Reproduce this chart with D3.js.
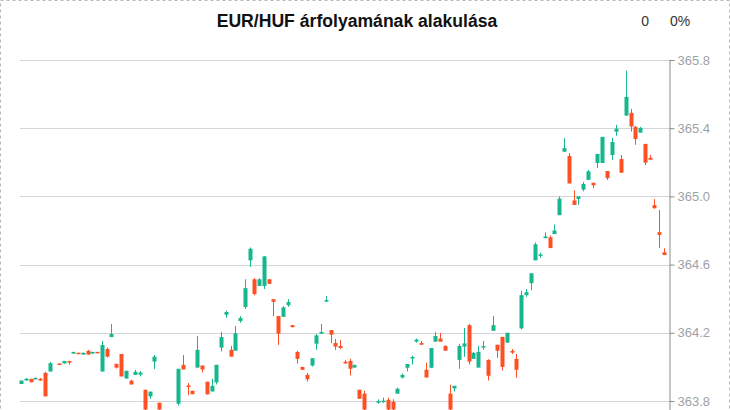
<!DOCTYPE html>
<html>
<head>
<meta charset="utf-8">
<script src="https://cdn.jsdelivr.net/npm/d3@7"></script>
<style>
  html, body { margin: 0; padding: 0; background: #fff; overflow: hidden; }
  svg { display: block; font-family: "Liberation Sans", Arial, sans-serif; }
</style>
</head>
<body>
<svg id="chart" width="730" height="410"></svg>
<script>
// ---- data (slot index = position in arrays; null = no candle) ----
const title = "EUR/HUF árfolyamának alakulása";
const changeAbs = "0";
const changePct = "0%";
const yTicks = [363.8, 364.2, 364.6, 365.0, 365.4, 365.8];

const open = [363.90,363.92,363.93,363.93,363.93,363.965,363.973,null,364.02,364.02,
364.035,364.078,364.083,364.072,364.094,364.078,364.088,363.973,364.105,364.175,
364.018,364.076,363.932,363.919,363.953,363.955,363.866,363.827,364.031,363.79,
null,null,null,363.784,364.012,363.891,363.86,363.996,364.008,363.913,
363.856,363.909,364.113,364.306,364.10,364.095,364.269,364.351,364.625,364.514,
364.475,364.475,364.514,364.397,364.298,364.294,364.362,364.245,364.088,364.00,
363.953,364.008,364.136,364.195,364.39,364.216,364.14,364.123,364.03,364.035,
363.996,363.866,363.843,null,null,363.79,363.80,363.807,363.796,363.843,
363.938,363.995,364.049,364.148,364.14,363.983,363.995,364.148,364.166,364.123,
363.843,363.874,364.041,364.119,364.245,364.047,363.996,364.12,364.041,364.212,
364.13,364.176,364.142,364.094,364.047,364.226,364.421,364.491,364.625,364.655,
364.755,364.76,364.779,364.89,365.262,365.237,364.976,364.985,365.04,365.097,
365.08,365.196,365.196,365.149,365.243,365.38,365.219,365.474,365.49,365.408,
365.374,365.308,365.226,364.949,364.79,364.672];

const high = [363.92,363.935,363.93,363.94,363.935,363.971,364.029,null,364.02,364.035,
364.035,364.088,364.083,364.083,364.10,364.088,364.088,364.152,364.115,364.251,
364.018,364.076,363.977,363.925,363.983,363.975,363.866,363.855,364.07,363.79,
null,null,null,363.989,364.07,363.905,363.86,364.181,364.008,363.913,
363.93,364.012,364.205,364.329,364.123,364.24,364.298,364.514,364.70,364.52,
364.52,364.65,364.514,364.397,364.298,364.356,364.397,364.245,364.094,364.00,
363.965,364.051,364.193,364.252,364.415,364.216,364.164,364.158,364.04,364.047,
364.012,363.866,363.86,null,null,363.81,363.82,363.82,363.81,363.878,
363.961,364.017,364.066,364.166,364.152,364.024,364.111,364.205,364.199,364.127,
363.895,363.889,364.135,364.228,364.251,364.088,364.123,364.152,364.045,364.298,
364.13,364.176,364.20,364.105,364.076,364.446,364.456,364.549,364.73,364.67,
364.789,364.771,364.835,365.00,365.341,365.254,365.035,365.00,365.085,365.155,
365.08,365.249,365.349,365.149,365.343,365.419,365.243,365.737,365.513,365.414,
365.408,365.308,365.243,364.984,364.92,364.696];

const low = [363.90,363.92,363.91,363.93,363.92,363.827,363.973,null,364.013,364.02,
364.014,364.078,364.08,364.072,364.072,364.078,364.084,363.973,364.055,364.175,
363.99,363.944,363.932,363.897,363.953,363.944,363.74,363.812,363.987,363.74,
null,null,null,363.774,363.985,363.833,363.84,363.996,363.967,363.839,
363.856,363.897,364.09,364.288,364.06,364.095,364.259,364.339,364.586,364.42,
364.475,364.456,364.487,364.298,364.129,364.294,364.352,364.23,364.02,363.983,
363.914,364.002,364.101,364.195,364.381,364.139,364.10,364.105,364.02,363.95,
363.996,363.813,363.74,null,null,363.785,363.79,363.74,363.74,363.843,
363.932,363.973,364.014,364.142,364.13,363.938,363.995,364.148,364.148,364.095,
363.74,363.856,363.989,364.06,364.014,364.047,363.996,364.10,363.92,364.212,
364.053,363.979,364.142,364.076,363.936,364.22,364.411,364.45,364.625,364.64,
364.755,364.697,364.779,364.89,365.262,365.076,364.95,364.95,365.03,365.097,
365.048,365.166,365.196,365.096,365.214,365.356,365.139,365.474,365.38,365.303,
365.374,365.184,365.215,364.927,364.698,364.656];

const close = [363.92,363.93,363.91,363.935,363.92,363.827,364.022,null,364.015,364.035,
364.025,364.088,364.08,364.083,364.072,364.088,364.085,364.129,364.06,364.193,
363.996,363.944,363.977,363.897,363.971,363.967,363.75,363.855,364.06,363.75,
null,null,null,363.989,363.985,363.882,363.84,364.10,363.985,363.839,
363.889,364.012,364.175,364.322,364.06,364.197,364.287,364.462,364.693,364.427,
364.514,364.648,364.487,364.382,364.195,364.349,364.38,364.234,364.047,363.983,
363.928,364.051,364.185,364.205,364.392,364.189,364.119,364.111,364.02,363.989,
364.012,363.813,363.75,null,null,363.80,363.802,363.75,363.75,363.872,
363.953,364.017,364.058,364.16,364.13,363.938,364.111,364.181,364.148,364.095,
363.75,363.889,364.123,364.138,364.031,364.082,364.088,364.122,363.948,364.245,
364.095,364.00,364.20,364.084,363.983,364.421,364.438,364.549,364.719,364.66,
364.765,364.697,364.80,364.987,365.283,365.076,364.95,365.00,365.073,365.147,
365.065,365.249,365.349,365.107,365.319,365.397,365.139,365.584,365.41,365.337,
365.402,365.198,365.215,364.931,364.774,364.656];

// ---- chart ----
const W = 730, H = 410;
const upColor = "#16b78e", downColor = "#fe5024";
const svg = d3.select("#chart");

const candles = open.map((o, i) => ({ i, o, h: high[i], l: low[i], c: close[i] }))
  .filter(d => d.o !== null);

const x = d3.scaleLinear().domain([0, open.length - 1]).range([21, 664]);
const y = d3.scaleLinear().domain([363.8, 365.8]).range([401, 60]);
const plotLeft = 20, plotRight = 669.5;

// border
svg.append("rect").attr("x", 0.5).attr("y", 0.5).attr("width", W - 1).attr("height", 600)
  .attr("fill", "none").attr("stroke", "#b8b8b8").attr("stroke-dasharray", "3,3");

// gridlines
svg.append("g").selectAll("line").data(yTicks).join("line")
  .attr("x1", plotLeft).attr("x2", plotRight)
  .attr("y1", d => Math.round(y(d)) + 0.5).attr("y2", d => Math.round(y(d)) + 0.5)
  .attr("stroke", "#d3d6d9").attr("stroke-width", 1);

// right axis
const axis = d3.axisRight(y).tickValues(yTicks).tickFormat(d3.format(".1f")).tickSize(5).tickPadding(3);
const gAxis = svg.append("g").attr("transform", `translate(${plotRight},0)`).call(axis);
gAxis.select(".domain").attr("stroke", "#8a8a8a").attr("d", `M0.5,60V${H + 50}`);
gAxis.selectAll(".tick line").attr("stroke", "#8a8a8a");
gAxis.selectAll(".tick text").attr("fill", "#9ea1a6").attr("font-size", 13)
  .attr("font-family", "Liberation Sans, Arial, sans-serif");

// candles
const g = svg.append("g");
g.selectAll("line.wick").data(candles).join("line")
  .attr("class", "wick")
  .attr("x1", d => Math.round(x(d.i)) + 0.5).attr("x2", d => Math.round(x(d.i)) + 0.5)
  .attr("y1", d => y(d.h)).attr("y2", d => y(d.l))
  .attr("stroke", d => d.c >= d.o ? upColor : downColor).attr("stroke-width", 1);
g.selectAll("rect.body").data(candles).join("rect")
  .attr("class", "body")
  .attr("x", d => Math.round(x(d.i)) - 1.5)
  .attr("width", 4)
  .attr("y", d => y(Math.max(d.o, d.c)))
  .attr("height", d => Math.max(1.5, Math.abs(y(d.o) - y(d.c))))
  .attr("fill", d => d.c >= d.o ? upColor : downColor);

// title and change labels
svg.append("text").attr("x", 357).attr("y", 27).attr("text-anchor", "middle")
  .attr("font-size", 17.6).attr("font-weight", "bold").attr("fill", "#111")
  .text(title);
svg.append("text").attr("x", 649).attr("y", 26).attr("text-anchor", "end")
  .attr("font-size", 14).attr("fill", "#333").text(changeAbs);
svg.append("text").attr("x", 670).attr("y", 26).attr("text-anchor", "start")
  .attr("font-size", 14).attr("fill", "#333").text(changePct);
</script>
</body>
</html>
